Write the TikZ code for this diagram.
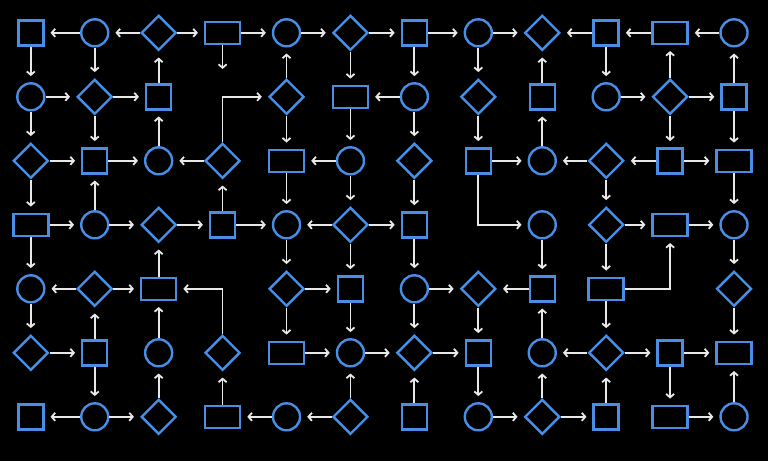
\documentclass[tikz,border=0pt]{standalone}
\usetikzlibrary{shapes.geometric,arrows.meta}
\definecolor{shpblue}{RGB}{72,142,228}
\definecolor{arrcol}{RGB}{232,232,232}
\begin{document}
\begin{tikzpicture}[x=1pt,y=-1pt,
  base/.style={draw=shpblue,line width=2.4pt,inner sep=0pt,fill=black},
  shpS/.style={base,rectangle,minimum width=25pt,minimum height=25pt},
  shpR/.style={base,rectangle,minimum width=35pt,minimum height=22pt},
  shpC/.style={base,circle,minimum size=27pt},
  shpD/.style={base,diamond,minimum width=35pt,minimum height=35pt},
  shpN/.style={shape=coordinate},
  arr/.style={draw=arrcol,line width=1.8pt,-{Straight Barb[length=3.5pt,width=8pt]},shorten >=6pt}]
\fill[black] (0,0) rectangle (768,461);
\useasboundingbox (0,0) rectangle (768,461);
\foreach \row [count=\r from 0] in {
  {S,C,D,R,C,D,S,C,D,S,R,C},
  {C,D,S,N,D,R,C,D,S,C,D,S},
  {D,S,C,D,R,C,D,S,C,D,S,R},
  {R,C,D,S,C,D,S,N,C,D,R,C},
  {C,D,R,N,D,S,C,D,S,R,N,D},
  {D,S,C,D,R,C,D,S,C,D,S,R},
  {S,C,D,R,C,D,S,C,D,S,R,C}} {
  \foreach \s [count=\c from 0] in \row {
    \node[shp\s] (n-\r-\c) at ({30.8+63.93*\c},{32.8+64*\r}) {};
  }
}
% horizontal connectors
\foreach \a/\b in {
 0-1/0-0, 0-2/0-1, 0-2/0-3, 0-3/0-4, 0-4/0-5, 0-5/0-6, 0-6/0-7, 0-7/0-8, 0-9/0-8, 0-10/0-9, 0-11/0-10,
 1-0/1-1, 1-1/1-2, 1-6/1-5, 1-9/1-10, 1-10/1-11,
 2-0/2-1, 2-1/2-2, 2-3/2-2, 2-5/2-4, 2-7/2-8, 2-9/2-8, 2-10/2-9, 2-10/2-11,
 3-0/3-1, 3-1/3-2, 3-2/3-3, 3-3/3-4, 3-5/3-4, 3-5/3-6, 3-9/3-10, 3-10/3-11,
 4-1/4-0, 4-1/4-2, 4-4/4-5, 4-6/4-7, 4-8/4-7,
 5-0/5-1, 5-4/5-5, 5-5/5-6, 5-6/5-7, 5-9/5-8, 5-9/5-10, 5-10/5-11,
 6-1/6-0, 6-1/6-2, 6-4/6-3, 6-5/6-4, 6-7/6-8, 6-8/6-9, 6-10/6-11}
 \draw[arr] (n-\a) -- (n-\b);
% vertical connectors
\foreach \a/\b in {
 0-0/1-0, 0-1/1-1, 1-2/0-2, 1-4/0-4, 0-5/1-5, 0-6/1-6, 0-7/1-7, 1-8/0-8, 0-9/1-9, 1-10/0-10, 1-11/0-11,
 1-0/2-0, 1-1/2-1, 2-2/1-2, 1-4/2-4, 1-5/2-5, 1-6/2-6, 1-7/2-7, 2-8/1-8, 1-10/2-10, 1-11/2-11,
 2-0/3-0, 3-1/2-1, 3-3/2-3, 2-4/3-4, 2-5/3-5, 2-6/3-6, 2-9/3-9, 2-11/3-11,
 3-0/4-0, 4-2/3-2, 3-4/4-4, 3-5/4-5, 3-6/4-6, 3-8/4-8, 3-9/4-9, 3-11/4-11,
 4-0/5-0, 5-1/4-1, 5-2/4-2, 4-4/5-4, 4-5/5-5, 4-6/5-6, 4-7/5-7, 5-8/4-8, 4-9/5-9, 4-11/5-11,
 5-1/6-1, 6-2/5-2, 6-3/5-3, 6-5/5-5, 6-6/5-6, 5-7/6-7, 6-8/5-8, 6-9/5-9, 5-10/6-10, 6-11/5-11}
 \draw[arr] (n-\a) -- (n-\b);
% elbow connectors
\draw[arr] (n-2-3) |- (n-1-4);
\draw[arr] (n-2-7) |- (n-3-8);
\draw[arr] (n-4-9) -| (n-3-10);
\draw[arr] (n-5-3) |- (n-4-2);
% free-ended arrow
\coordinate (e03) at (n-0-3 |- 0,69);
\draw[arr,shorten >=0pt] (n-0-3) -- (e03);
\end{tikzpicture}
\end{document}
